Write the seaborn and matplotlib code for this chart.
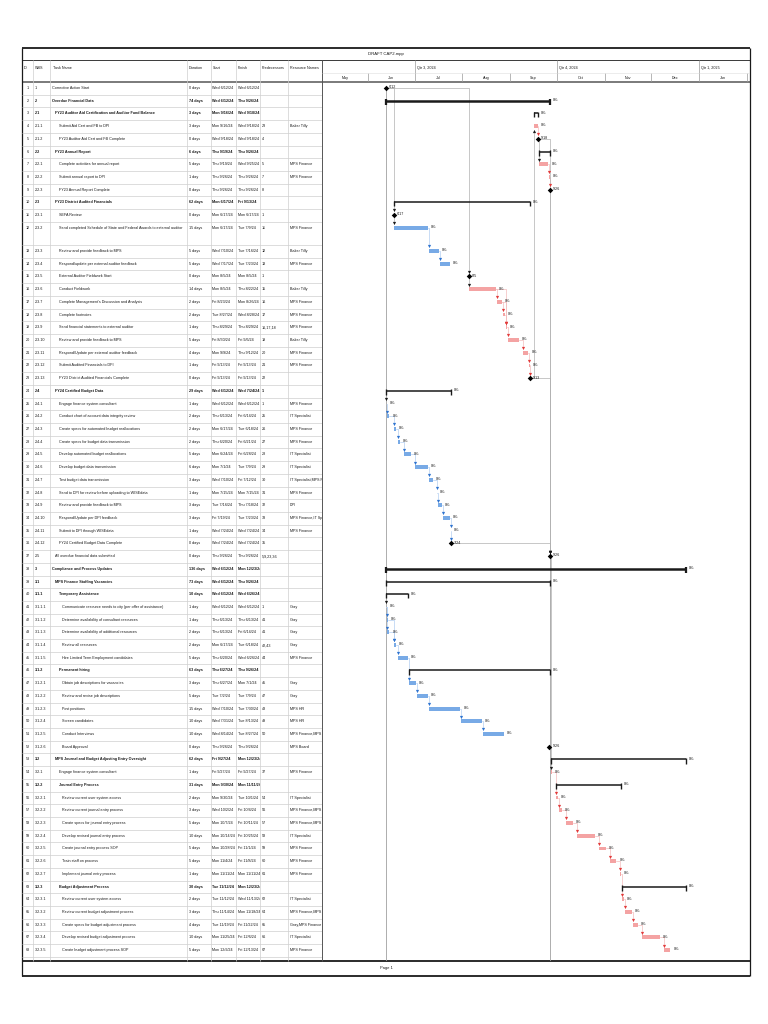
import datetime as dt
import numpy as np
import pandas as pd
import seaborn as sns
import matplotlib
matplotlib.use("Agg")
import matplotlib.pyplot as plt
import matplotlib.dates as mdates
from matplotlib import font_manager
from matplotlib.transforms import Bbox, TransformedBbox, offset_copy

# ---- schedule data ----
ids = list(range(1, 69))
wbs = ["1", "2", "2.1", "2.1.1", "2.1.2", "2.2", "2.2.1", "2.2.2", "2.2.3", "2.3",
       "2.3.1", "2.3.2", "2.3.3", "2.3.4", "2.3.5", "2.3.6", "2.3.7", "2.3.8", "2.3.9", "2.3.10",
       "2.3.11", "2.3.12", "2.3.13", "2.4", "2.4.1", "2.4.2", "2.4.3", "2.4.4", "2.4.5", "2.4.6",
       "2.4.7", "2.4.8", "2.4.9", "2.4.10", "2.4.11", "2.4.12", "2.5", "3", "3.1", "3.1.1",
       "3.1.1.1", "3.1.1.2", "3.1.1.3", "3.1.1.4", "3.1.1.5", "3.1.2", "3.1.2.1", "3.1.2.2", "3.1.2.3", "3.1.2.4",
       "3.1.2.5", "3.1.2.6", "3.2", "3.2.1", "3.2.2", "3.2.2.1", "3.2.2.2", "3.2.2.3", "3.2.2.4", "3.2.2.5",
       "3.2.2.6", "3.2.2.7", "3.2.3", "3.2.3.1", "3.2.3.2", "3.2.3.3", "3.2.3.4", "3.2.3.5"]
names = [
    "Corrective Action Start",
    "Overdue Financial Data",
    "FY23 Auditor Aid Certification and Auditor Fund Balance",
    "Submit Aid Cert and FB to DPI",
    "FY23 Auditor Aid Cert and FB Complete",
    "FY23 Annual Report",
    "Complete activities for annual report",
    "Submit annual report to DPI",
    "FY23 Annual Report Complete",
    "FY23 District Audited Financials",
    "SEFA Review",
    "Send completed Schedule of State and Federal Awards to external auditor",
    "Review and provide feedback to MPS",
    "Respond/update per external auditor feedback",
    "External Auditor Fieldwork Start",
    "Conduct Fieldwork",
    "Complete Management's Discussion and Analysis",
    "Complete footnotes",
    "Send financial statements to external auditor",
    "Review and provide feedback to MPS",
    "Respond/Update per external auditor feedback",
    "Submit Audited Financials to DPI",
    "FY23 District Audited Financials Complete",
    "FY24 Certified Budget Data",
    "Engage finance system consultant",
    "Conduct chart of account data integrity review",
    "Create specs for automated budget reallocations",
    "Create specs for budget data transmission",
    "Develop automated budget reallocations",
    "Develop budget data transmission",
    "Test budget data transmission",
    "Send to DPI for review before uploading to WISEdata",
    "Review and provide feedback to MPS",
    "Respond/Update per DPI feedback",
    "Submit to DPI through WISEdata",
    "FY24 Certified Budget Data Complete",
    "All overdue financial data submitted",
    "Compliance and Process Updates",
    "MPS Finance Staffing Vacancies",
    "Temporary Assistance",
    "Communicate resource needs to city (per offer of assistance)",
    "Determine availability of consultant resources",
    "Determine availability of additional resources",
    "Review all resources",
    "Hire Limited Term Employment candidates",
    "Permanent hiring",
    "Obtain job descriptions for vacancies",
    "Review and revise job descriptions",
    "Post positions",
    "Screen candidates",
    "Conduct Interviews",
    "Board Approval",
    "MPS Journal and Budget Adjusting Entry Oversight",
    "Engage finance system consultant",
    "Journal Entry Process",
    "Review current user system access",
    "Review current journal entry process",
    "Create specs for journal entry process",
    "Develop revised journal entry process",
    "Create journal entry process SOP",
    "Train staff on process",
    "Implement journal entry process",
    "Budget Adjustment Process",
    "Review current user system access",
    "Review current budget adjustment process",
    "Create specs for budget adjustment process",
    "Develop revised budget adjustment process",
    "Create budget adjustment process SOP",
]
durations = ["0 days", "74 days", "3 days", "3 days", "0 days", "6 days", "5 days", "1 day", "0 days", "62 days",
             "0 days", "15 days", "5 days", "5 days", "0 days", "14 days", "2 days", "2 days", "1 day", "5 days",
             "4 days", "1 day", "0 days", "29 days", "1 day", "2 days", "2 days", "2 days", "5 days", "6 days",
             "3 days", "1 day", "3 days", "3 days", "1 day", "0 days", "0 days", "136 days", "73 days", "10 days",
             "1 day", "1 day", "2 days", "2 days", "5 days", "63 days", "3 days", "5 days", "15 days", "10 days",
             "10 days", "0 days", "62 days", "1 day", "31 days", "2 days", "3 days", "5 days", "10 days", "5 days",
             "5 days", "1 day", "30 days", "2 days", "3 days", "4 days", "10 days", "5 days"]
starts = ["Wed 6/12/24", "Wed 6/12/24", "Mon 9/16/24", "Mon 9/16/24", "Wed 9/18/24", "Thu 9/19/24", "Thu 9/19/24", "Thu 9/26/24", "Thu 9/26/24", "Mon 6/17/24",
          "Mon 6/17/24", "Mon 6/17/24", "Wed 7/10/24", "Wed 7/17/24", "Mon 8/5/24", "Mon 8/5/24", "Fri 8/23/24", "Tue 8/27/24", "Thu 8/29/24", "Fri 8/30/24",
          "Mon 9/9/24", "Fri 9/13/24", "Fri 9/13/24", "Wed 6/12/24", "Wed 6/12/24", "Thu 6/13/24", "Mon 6/17/24", "Thu 6/20/24", "Mon 6/24/24", "Mon 7/1/24",
          "Wed 7/10/24", "Mon 7/15/24", "Tue 7/16/24", "Fri 7/19/24", "Wed 7/24/24", "Wed 7/24/24", "Thu 9/26/24", "Wed 6/12/24", "Wed 6/12/24", "Wed 6/12/24",
          "Wed 6/12/24", "Thu 6/13/24", "Thu 6/13/24", "Mon 6/17/24", "Thu 6/20/24", "Thu 6/27/24", "Thu 6/27/24", "Tue 7/2/24", "Wed 7/10/24", "Wed 7/31/24",
          "Wed 8/14/24", "Thu 9/26/24", "Fri 9/27/24", "Fri 9/27/24", "Mon 9/30/24", "Mon 9/30/24", "Wed 10/2/24", "Mon 10/7/24", "Mon 10/14/24", "Mon 10/28/24",
          "Mon 11/4/24", "Mon 11/11/24", "Tue 11/12/24", "Tue 11/12/24", "Thu 11/14/24", "Tue 11/19/24", "Mon 11/25/24", "Mon 12/9/24"]
finishes = ["Wed 6/12/24", "Thu 9/26/24", "Wed 9/18/24", "Wed 9/18/24", "Wed 9/18/24", "Thu 9/26/24", "Wed 9/25/24", "Thu 9/26/24", "Thu 9/26/24", "Fri 9/13/24",
            "Mon 6/17/24", "Tue 7/9/24", "Tue 7/16/24", "Tue 7/23/24", "Mon 8/5/24", "Thu 8/22/24", "Mon 8/26/24", "Wed 8/28/24", "Thu 8/29/24", "Fri 9/6/24",
            "Thu 9/12/24", "Fri 9/13/24", "Fri 9/13/24", "Wed 7/24/24", "Wed 6/12/24", "Fri 6/14/24", "Tue 6/18/24", "Fri 6/21/24", "Fri 6/28/24", "Tue 7/9/24",
            "Fri 7/12/24", "Mon 7/15/24", "Thu 7/18/24", "Tue 7/23/24", "Wed 7/24/24", "Wed 7/24/24", "Thu 9/26/24", "Mon 12/23/24", "Thu 9/26/24", "Wed 6/26/24",
            "Wed 6/12/24", "Thu 6/13/24", "Fri 6/14/24", "Tue 6/18/24", "Wed 6/26/24", "Thu 9/26/24", "Mon 7/1/24", "Tue 7/9/24", "Tue 7/30/24", "Tue 8/13/24",
            "Tue 8/27/24", "Thu 9/26/24", "Mon 12/23/24", "Fri 9/27/24", "Mon 11/11/24", "Tue 10/1/24", "Fri 10/4/24", "Fri 10/11/24", "Fri 10/25/24", "Fri 11/1/24",
            "Fri 11/8/24", "Mon 11/11/24", "Mon 12/23/24", "Wed 11/13/24", "Mon 11/18/24", "Fri 11/22/24", "Fri 12/6/24", "Fri 12/13/24"]
preds = ["", "", "", "23", "4", "", "5", "7", "8", "",
         "1", "11", "12", "13", "1", "15", "16", "17", "16,17,18", "19",
         "20", "21", "22", "1", "1", "25", "26", "27", "28", "29",
         "30", "31", "32", "33", "34", "35", "5,9,23,36", "", "", "",
         "1", "41", "41", "42,43", "44", "", "45", "47", "48", "49",
         "50", "", "", "37", "", "54", "56", "57", "58", "59",
         "60", "61", "", "62", "64", "65", "66", "67"]
resources = ["", "", "", "Baker Tilly", "", "", "MPS Finance", "MPS Finance", "", "",
             "", "MPS Finance", "Baker Tilly", "MPS Finance", "", "Baker Tilly", "MPS Finance", "MPS Finance", "MPS Finance", "Baker Tilly",
             "MPS Finance", "MPS Finance", "", "", "MPS Finance", "IT Specialist", "MPS Finance", "MPS Finance", "IT Specialist", "IT Specialist",
             "IT Specialist,MPS Finance", "MPS Finance", "DPI", "MPS Finance,IT Specialist", "MPS Finance", "", "", "", "", "",
             "Gray", "Gray", "Gray", "Gray", "MPS Finance", "", "Gray", "Gray", "MPS HR", "MPS HR",
             "MPS Finance,MPS HR", "MPS Board", "", "MPS Finance", "", "IT Specialist", "MPS Finance,MPS Accounting", "MPS Finance,MPS Accounting", "IT Specialist", "MPS Finance",
             "MPS Finance", "MPS Finance", "", "IT Specialist", "MPS Finance,MPS Accounting", "Gray,MPS Finance", "IT Specialist", "MPS Finance"]
summary_ids = [2, 3, 6, 10, 24, 38, 39, 40, 46, 53, 55, 63]
critical_ids = [4, 7, 8, 16, 17, 18, 19, 20, 21, 22, 54, 56, 57, 58, 59, 60, 61, 62,
                64, 65, 66, 67, 68]
offpage_link_ids = [1, 37]   # links that run on to the next page
tall_row_id = 12

month_labels = ["May", "Jun", "Jul", "Aug", "Sep", "Oct", "Nov", "Dec", "Jan"]
quarter_labels = ["Qtr 3, 2024", "Qtr 4, 2024", "Qtr 1, 2025"]
quarter_starts = ["2024-07-01", "2024-10-01", "2025-01-01"]
title_text = "DRAFT CAP2.mpp"
footer_text = "Page 1"

# ---- style ----
sns.set_theme(style="white")
installed = {f.name for f in font_manager.fontManager.ttflist}
if "Liberation Sans Narrow" in installed:
    FONT, FS = "Liberation Sans Narrow", 3.2
else:
    FONT, FS = "Liberation Sans", 2.7
plt.rcParams["font.family"] = [FONT, "DejaVu Sans"]

INK = "#1a1a1a"
GRID = "#cfcfcf"
RED_BAR, RED_ARROW, RED_LINK = "#f4a3a3", "#e23b3b", "#f3bcbc"
BLUE_BAR, BLUE_ARROW, BLUE_LINK = "#78aae6", "#2f74d0", "#b3cff2"
GREY_LINK = "#b0b0b0"

W, H = 768, 1024
fig = plt.figure(figsize=(W / 100, H / 100), dpi=100)


def frac(x0, y0, x1, y1):
    return [x0 / W, 1 - y1 / H, (x1 - x0) / W, (y1 - y0) / H]


ax_page = fig.add_axes([0, 0, 1, 1])
ax_page.set_xlim(0, W)
ax_page.set_ylim(H, 0)
ax_page.axis("off")
ax_t = fig.add_axes(frac(22, 82, 322, 961))
ax_g = fig.add_axes(frac(322, 82, 750, 961))
ax_h = fig.add_axes(frac(322, 60, 750, 82))

# ---- row geometry ----
n = len(ids)
row_h = np.ones(n)
row_h[ids.index(tall_row_id)] = 1.83
tops = np.concatenate([[0.0], np.cumsum(row_h)[:-1]])
mid = tops + 0.47
Y_BOTTOM = 879 / 12.71


def parse(s):
    return dt.datetime.strptime(s.split()[1], "%m/%d/%y")


is_ms = [d == "0 days" for d in durations]
is_sum = [i in summary_ids for i in ids]
pred_lists = [[int(p) for p in s.split(",")] if s else [] for s in preds]

x_start = np.zeros(n)
x_end = np.zeros(n)
for k in range(n):
    if is_ms[k]:
        day = parse(starts[k])
        hour = 8
        for p in pred_lists[k]:
            pe = mdates.num2date(x_end[p - 1]).replace(tzinfo=None)
            if pe.date() == day.date() and pe.hour == 17:
                hour = 17
        x_start[k] = x_end[k] = mdates.date2num(day + dt.timedelta(hours=hour))
    else:
        x_start[k] = mdates.date2num(parse(starts[k]) + dt.timedelta(hours=8))
        x_end[k] = mdates.date2num(parse(finishes[k]) + dt.timedelta(hours=17))

XMIN = mdates.date2num(dt.datetime(2024, 5, 2))
XMAX = mdates.date2num(dt.datetime(2025, 2, 3, 6))

# ---- page frame ----
hl = ax_page.hlines
hl([48, 961, 976], 22, 750, color=INK, lw=1.3)
hl([60], 22, 750, color=INK, lw=0.6)
hl([82], 22, 750, color="#7a7a7a", lw=1.4)
ax_page.vlines([22, 750], 48, 976, color=INK, lw=0.9)
ax_page.vlines([322], 60, 961, color="#555555", lw=0.7)
col_edges = [33, 50, 187, 211, 236, 260, 288]
ax_page.vlines(col_edges, 60, 961, color=GRID, lw=0.5)
ax_page.text(386, 54.5, title_text, ha="center", va="center", fontsize=FS + 0.4, color=INK)
ax_page.text(386, 968.5, footer_text, ha="center", va="center", fontsize=FS + 0.2, color=INK)
header_cols = [("ID", 24), ("WBS", 35), ("Task Name", 53), ("Duration", 189),
               ("Start", 213), ("Finish", 238), ("Predecessors", 262), ("Resource Names", 290)]
for label, xx in header_cols:
    ax_page.text(xx, 68, label, ha="left", va="center", fontsize=FS, color=INK)

# ---- task table ----
ax_t.set_xlim(22, 322)
ax_t.set_ylim(Y_BOTTOM, 0)
ax_t.axis("off")
ax_t.hlines(np.append(tops[1:], tops[-1] + row_h[-1]), 22, 322, color=GRID, lw=0.5)

levels = [w.count(".") for w in wbs]
name_x = [52 + 3.3 * lv for lv in levels]
columns = [
    ([str(i) for i in ids], [28] * n, 22, 33, "center"),
    (wbs, [35] * n, 33, 50, "left"),
    (names, name_x, 50, 187, "left"),
    (durations, [189] * n, 187, 211, "left"),
    (starts, [212.5] * n, 211, 236, "left"),
    (finishes, [237.5] * n, 236, 260, "left"),
    (preds, [261.5] * n, 260, 288, "left"),
    (resources, [290] * n, 288, 322, "left"),
]
for values, xs, x0, x1, ha in columns:
    clip = TransformedBbox(Bbox.from_extents(x0, 0, x1 - 0.3, Y_BOTTOM), ax_t.transData)
    for k, v in enumerate(values):
        bold = is_sum[k] and ha == "left" and x0 >= 33
        t = ax_t.text(xs[k], mid[k], v, ha=ha, va="center", fontsize=FS, color=INK,
                      fontweight="bold" if bold else "normal")
        t.set_clip_box(clip)
        t.set_clip_on(True)

# ---- gantt chart ----
ax_g.set_xlim(XMIN, XMAX)
ax_g.set_ylim(Y_BOTTOM, 0)


def bar_kind(i):
    return "red" if i in critical_ids else "blue"


task_idx = [k for k in range(n) if not is_ms[k] and not is_sum[k]]
ax_g.barh(mid[task_idx], x_end[task_idx] - x_start[task_idx], left=x_start[task_idx],
          height=0.3, color=[RED_BAR if bar_kind(ids[k]) == "red" else BLUE_BAR for k in task_idx],
          linewidth=0, zorder=3)

# links between tasks
for k in range(n):
    if is_sum[k]:
        continue
    for p in pred_lists[k]:
        j = p - 1
        if is_ms[j]:
            lc, ac = GREY_LINK, INK
        elif bar_kind(p) == "red":
            lc, ac = RED_LINK, RED_ARROW
        else:
            lc, ac = BLUE_LINK, BLUE_ARROW
        down = mid[k] > mid[j]
        yt = mid[k] - 0.36 if down else mid[k] + 0.36
        if x_start[k] > x_end[j] + 0.3:
            ax_g.plot([x_end[j], x_start[k], x_start[k]], [mid[j], mid[j], yt],
                      color=lc, lw=0.5, zorder=2)
        else:
            ax_g.plot([x_start[k], x_start[k]], [mid[j], yt], color=lc, lw=0.5, zorder=2)
        ax_g.plot([x_start[k]], [yt], marker="v" if down else "^", ms=2.3,
                  color=ac, mew=0, zorder=4)

for p in offpage_link_ids:
    ax_g.plot([x_end[p - 1], x_end[p - 1]], [mid[p - 1], Y_BOTTOM], color="#a0a0a0",
              lw=0.6, zorder=1)

# summary bars
for k in range(n):
    if not is_sum[k]:
        continue
    lw = 1.8 if levels[k] == 0 else 1.1
    ax_g.hlines(mid[k], x_start[k], x_end[k], color=INK, lw=lw, zorder=3)
    ax_g.vlines([x_start[k], x_end[k]], mid[k] - 0.12, mid[k] + 0.32, color=INK,
                lw=lw * 0.9, zorder=3)

# milestones
ms_idx = [k for k in range(n) if is_ms[k]]
ms_df = pd.DataFrame({"x": x_start[ms_idx], "y": mid[ms_idx]})
sns.scatterplot(data=ms_df, x="x", y="y", marker="D", s=8, color="black",
                linewidth=0, ax=ax_g, legend=False, zorder=5)
ax_g.set_xlim(XMIN, XMAX)
ax_g.set_ylim(Y_BOTTOM, 0)
ax_g.axis("off")

# bar labels
lab_tr = offset_copy(ax_g.transData, fig=fig, x=3, y=0, units="dots")
for k in range(n):
    if is_ms[k]:
        d = mdates.num2date(x_start[k])
        txt = "{}/{}".format(d.month, d.day)
    else:
        txt = "0%"
    ax_g.text(x_end[k], mid[k] - 0.05, txt, transform=lab_tr, ha="left",
              va="center", fontsize=FS, color=INK)

# ---- timescale header ----
ax_h.set_xlim(XMIN, XMAX)
ax_h.set_ylim(0, 1)
ax_h.axis("off")
bounds = [mdates.date2num(d) for d in pd.date_range("2024-05-01", periods=len(month_labels) + 1, freq="MS")]
for i, lab in enumerate(month_labels):
    a, b = max(bounds[i], XMIN), min(bounds[i + 1], XMAX)
    ax_h.text((a + b) / 2, 0.19, lab, ha="center", va="center", fontsize=FS, color=INK)
ax_h.vlines([b for b in bounds if XMIN < b < XMAX], 0, 0.41, color="#9a9a9a", lw=0.5)
ax_h.hlines(0.41, XMIN, XMAX, color="#dddddd", lw=0.4)
qx = [mdates.date2num(dt.datetime.fromisoformat(q)) for q in quarter_starts]
ax_h.vlines(qx, 0.41, 1, color="#9a9a9a", lw=0.5)
q_tr = offset_copy(ax_h.transData, fig=fig, x=2, y=0, units="dots")
for xq, lab in zip(qx, quarter_labels):
    ax_h.text(xq, 0.63, lab, transform=q_tr, ha="left", va="center", fontsize=FS, color=INK)

fig.savefig("out.png", dpi=100)
